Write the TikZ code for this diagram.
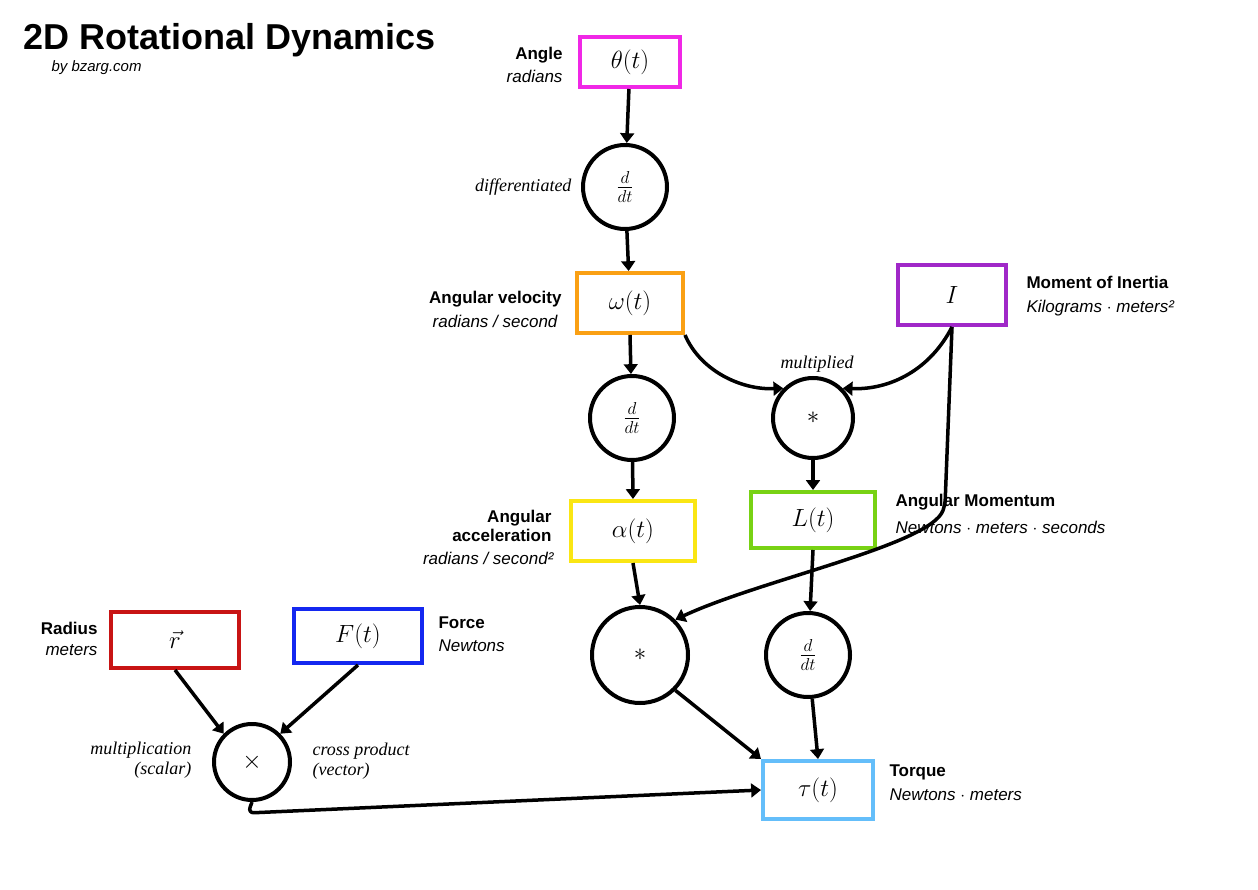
\documentclass[tikz,border=0pt]{standalone}
\usepackage{fontspec}
\setmainfont{Liberation Serif}
\setsansfont{Liberation Sans}
\usepackage{amsmath}
\usetikzlibrary{arrows.meta}
\tikzset{%
  tipA/.tip={Triangle[angle=70:12pt]},
  qbox/.style={draw, line width=4pt, minimum width=#1, minimum height=56pt, font=\fontsize{28}{30}\selectfont},
  opcirc/.style={draw, circle, line width=4pt, minimum size=#1, inner sep=0pt, font=\fontsize{24}{26}\selectfont},
  flow/.style={line width=3.5pt, -tipA, rounded corners=6pt},
  qname/.style={font=\sffamily\bfseries\fontsize{17}{19}\selectfont},
  unit/.style={font=\sffamily\itshape\fontsize{17}{19}\selectfont},
  verb/.style={font=\itshape\fontsize{18}{20}\selectfont}
}
\definecolor{cMag}{RGB}{240,40,230}
\definecolor{cOra}{RGB}{250,160,20}
\definecolor{cPur}{RGB}{160,40,200}
\definecolor{cYel}{RGB}{250,230,20}
\definecolor{cGre}{RGB}{120,210,20}
\definecolor{cRed}{RGB}{200,20,20}
\definecolor{cBlu}{RGB}{20,40,240}
\definecolor{cSky}{RGB}{100,190,250}

\begin{document}
\begin{tikzpicture}[x=1pt,y=-1pt]
\useasboundingbox (0,0) rectangle (1258,890);
% title
\node[anchor=west, font=\sffamily\bfseries\fontsize{36}{38}\selectfont] (title) at (20,40) {2D Rotational Dynamics};
\node[anchor=west, font=\sffamily\itshape\fontsize{15}{17}\selectfont] (by) at (48,68) {by bzarg.com};
% quantities
\node[qbox=100pt, minimum height=50pt, cMag] (theta) at (630,62) {\color{black}$\theta(t)$};
\node[qbox=106pt, minimum height=60pt, cOra] (omega) at (630,303) {\color{black}$\omega(t)$};
\node[qbox=108pt, minimum height=60pt, cPur] (inertia) at (952,295) {\color{black}$I$};
\node[qbox=124pt, minimum height=60pt, cYel] (alpha) at (633,531) {\color{black}$\alpha(t)$};
\node[qbox=124pt, cGre] (mom) at (813,520) {\color{black}$L(t)$};
\node[qbox=128pt, cRed] (radius) at (175,640) {\color{black}$\vec{r}$};
\node[qbox=128pt, minimum height=54pt, cBlu] (force) at (358,636) {\color{black}$F(t)$};
\node[qbox=110pt, minimum height=58pt, cSky] (torque) at (818,790) {\color{black}$\tau(t)$};
% operations
\node[opcirc=84pt] (dA) at (625,187) {$\frac{d}{dt}$};
\node[opcirc=84pt] (dB) at (632,418) {$\frac{d}{dt}$};
\node[opcirc=80pt] (mA) at (813,418) {\fontsize{34}{36}\selectfont$\ast$};
\node[opcirc=96pt] (mB) at (640,655) {\fontsize{38}{40}\selectfont$\ast$};
\node[opcirc=84pt] (dC) at (808,655) {$\frac{d}{dt}$};
\node[opcirc=76pt] (cross) at (252,762) {$\times$};
% labels
\node[qname, anchor=east] (l1) at (566,55) {Angle};
\node[unit, anchor=east] (l2) at (566,76) {radians};
\node[verb, anchor=east] (l3) at (575,187) {differentiated};
\node[qname, anchor=east] (l4) at (565,299) {Angular velocity};
\node[unit, anchor=east] (l5) at (561,321) {radians / second};
\node[qname, anchor=west] (l6) at (1023,282) {Moment of Inertia};
\node[unit, anchor=west] (l7) at (1023,308) {Kilograms $\cdot$ meters²};
\node[verb] (l8) at (817,364) {multiplied};
\node[qname, anchor=east, align=right] (l9) at (555,526) {Angular\\acceleration};
\node[unit, anchor=east] (l10) at (557,558) {radians / second²};
\node[qname, anchor=west] (l11) at (892,502) {Angular Momentum};
\node[unit, anchor=west] (l12) at (892,527) {Newtons $\cdot$ meters $\cdot$ seconds};
\node[qname, anchor=east] (l13) at (101,628) {Radius};
\node[unit, anchor=east] (l14) at (101,650) {meters};
\node[qname, anchor=west] (l15) at (435,623) {Force};
\node[unit, anchor=west] (l16) at (435,646) {Newtons};
\node[verb, anchor=east, align=right] (l17) at (195,760) {multiplication\\(scalar)};
\node[verb, anchor=west, align=left] (l18) at (309,761) {cross product\\(vector)};
\node[qname, anchor=west] (l19) at (886,772) {Torque};
\node[unit, anchor=west] (l20) at (886,795) {Newtons $\cdot$ meters};
% connectors
\coordinate (iTurn) at (945,505);
\coordinate (cTurn) at (248,813);
\draw[flow] (theta) -- (dA);
\draw[flow] (dA) -- (omega);
\draw[flow] (omega.south) -- (dB);
\draw[flow] (omega.south east) .. controls (700,370) and (740,390) .. (mA.north west);
\draw[flow] (inertia.south) .. controls (930,370) and (890,390) .. (mA.north east);
\draw[flow] (dB) -- (alpha.north);
\draw[flow] (mA) -- (mom);
\draw[flow] (alpha.south) -- (mB.north);
\draw[flow] (mom.south) -- (dC);
\draw[flow] (inertia.south) -- (iTurn) .. controls (930,545) and (760,580) .. (mB.north east);
\draw[flow] (mB.south east) -- (torque.north west);
\draw[flow] (dC) -- (torque.north);
\draw[flow] (radius.south) -- (cross.north west);
\draw[flow] (force.south) -- (cross.north east);
\draw[flow] (cross.south) -- (cTurn) -- (torque.west);
\end{tikzpicture}
\end{document}
